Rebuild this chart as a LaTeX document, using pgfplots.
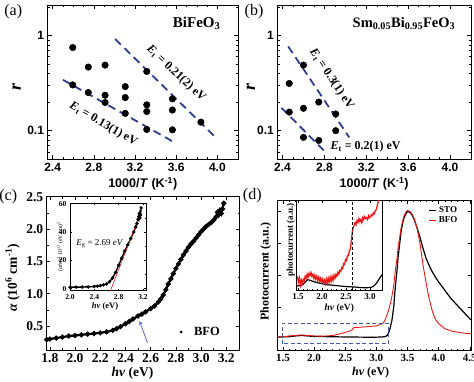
\documentclass[border=0pt]{standalone}
\usepackage{fontspec}
\setmainfont{Liberation Serif}
\setsansfont{Liberation Sans}
\usepackage{pgfplots}
\pgfplotsset{compat=1.18}
\definecolor{navyd}{RGB}{45,62,140}
\definecolor{bfored}{RGB}{235,25,25}
\definecolor{arrowblue}{RGB}{80,105,185}
\definecolor{rectblue}{RGB}{70,90,170}
\pgfplotsset{
  myBase/.style={scale only axis, anchor=south west, tick align=inside,
    major tick length=3.5pt, minor tick length=2pt,
    every tick/.style={black, line width=0.5pt}, axis line style={line width=0.7pt},
    tick label style={/pgf/number format/fixed, /pgf/number format/fixed zerofill,
      /pgf/number format/precision=1, /pgf/number format/assume math mode=true}},
  myAB/.style={
    xmin=2.35, xmax=4.2, ymin=0.05, ymax=2.1,
    xtick={2.4,2.8,3.2,3.6,4.0}, minor x tick num=3,
    ytick={0.1,1}, yticklabels={0.1,1},
    minor ytick={0.06,0.07,0.08,0.09,0.2,0.3,0.4,0.5,0.6,0.7,0.8,0.9,2},
    major tick length=4pt, minor tick length=2.2pt,
    tick label style={font=\sffamily\bfseries\fontsize{12}{12}\selectfont},
    xlabel={1000/\textit{T} (K\textsuperscript{-1})},
    xlabel style={font=\sffamily\bfseries\fontsize{12.5}{12}\selectfont, at={(axis description cs:0.5,-0.16)}, anchor=center},
    ylabel={\textit{r}},
    ylabel style={font=\bfseries\fontsize{18}{18}\selectfont, anchor=center},
  },
}
\begin{document}
\begin{tikzpicture}
\path[use as bounding box] (0pt,0pt) rectangle (474pt,381pt);

% ---------------- (a)
\begin{semilogyaxis}[myBase, myAB, at={(47.5pt,221.7pt)}, width=190.5pt, height=154.3pt,
  ylabel style={at={(axis description cs:-0.162,0.47)}}]
\addplot[only marks, mark=*, mark size=3.3pt, black] coordinates {
(2.595,0.75)(2.595,0.303)(2.746,0.467)(2.746,0.252)(2.909,0.49)(2.909,0.236)(2.909,0.198)
(3.105,0.291)(3.105,0.223)(3.105,0.152)(3.314,0.42)(3.314,0.187)(3.314,0.159)(3.314,0.103)
(3.563,0.216)(3.563,0.165)(3.563,0.102)(3.84,0.123)};
\addplot[navyd, line width=1.8pt, dash pattern=on 8pt off 5pt] coordinates {(3.007,0.92)(3.968,0.088)};
\addplot[navyd, line width=1.8pt, dash pattern=on 8pt off 5pt] coordinates {(2.50,0.343)(3.57,0.0766)};
\node[rotate=-43, font=\bfseries\fontsize{12}{12}\selectfont] at (rel axis cs:0.675,0.555) {\textit{E}\textsubscript{t} = 0.21(2) eV};
\node[rotate=-30, font=\bfseries\fontsize{12}{12}\selectfont] at (rel axis cs:0.293,0.228) {\textit{E}\textsubscript{t} = 0.13(1) eV};
\node[font=\bfseries\fontsize{15}{15}\selectfont] at (rel axis cs:0.783,0.881) {BiFeO\textsubscript{3}};
\end{semilogyaxis}

% ---------------- (b)
\begin{semilogyaxis}[myBase, myAB, at={(277.3pt,221.7pt)}, width=193.7pt, height=154.3pt,
  ylabel style={at={(axis description cs:-0.137,0.47)}}]
\addplot[only marks, mark=*, mark size=3.3pt, black] coordinates {
(2.464,0.314)(2.464,0.157)(2.60,0.49)(2.60,0.172)(2.60,0.085)(2.746,0.2)(2.746,0.079)(2.908,0.15)(2.908,0.1)};
\addplot[navyd, line width=1.8pt, dash pattern=on 8pt off 5pt] coordinates {(2.454,0.77)(3.037,0.085)};
\addplot[navyd, line width=1.8pt, dash pattern=on 8pt off 5pt] coordinates {(2.39,0.174)(2.80,0.061)};
\node[rotate=-56, font=\bfseries\fontsize{12}{12}\selectfont] at (rel axis cs:0.28,0.52) {\textit{E}\textsubscript{t} = 0.3(1) eV};
\node[font=\bfseries\fontsize{12}{12}\selectfont] at (rel axis cs:0.456,0.082) {\textit{E}\textsubscript{t} = 0.2(1) eV};
\node[font=\bfseries\fontsize{14.5}{15}\selectfont] at (rel axis cs:0.654,0.881) {Sm\textsubscript{0.05}Bi\textsubscript{0.95}FeO\textsubscript{3}};
\end{semilogyaxis}

% ---------------- (c)
\begin{axis}[myBase, at={(46.7pt,31pt)}, width=192.8pt, height=153.3pt,
  xmin=1.775, xmax=3.305, ymin=0.13, ymax=2.5,
  xtick={1.8,2.0,...,3.21}, minor x tick num=1,
  ytick={0.5,1.0,1.5,2.0,2.5}, minor y tick num=1,
  tick label style={font=\bfseries\fontsize{13.5}{13.5}\selectfont},
  xlabel={\textit{hv} (eV)},
  xlabel style={font=\bfseries\fontsize{13.5}{13.5}\selectfont, at={(axis description cs:0.445,-0.149)}, anchor=center},
  ylabel={\textit{α} (10\textsuperscript{6} cm\textsuperscript{-1})},
  ylabel style={font=\bfseries\fontsize{13.5}{13.5}\selectfont, at={(axis description cs:-0.177,0.47)}, anchor=center},
  legend style={draw=none, fill=none, at={(0.665,0.118)}, anchor=west, font=\bfseries\fontsize{12.5}{12.5}\selectfont},
  legend image code/.code={\node[draw=none, fill=none, inner sep=0pt, minimum width=14pt, minimum height=3pt] at (5pt,0pt) {};
    \node[circle, draw=none, fill=black, inner sep=0pt, minimum size=3pt] at (1pt,0pt) {};}]
\addplot[black, line width=2.2pt, mark=*, mark size=1.3pt] coordinates {
(1.775,0.29)(1.80,0.30)(1.85,0.315)(1.90,0.33)(1.95,0.345)(2.00,0.355)(2.05,0.365)(2.10,0.375)
(2.15,0.385)(2.20,0.395)(2.25,0.41)(2.30,0.435)(2.33,0.46)(2.36,0.49)(2.40,0.535)(2.43,0.57)
(2.46,0.61)(2.50,0.655)(2.53,0.685)(2.56,0.72)(2.60,0.77)(2.63,0.81)(2.66,0.87)(2.68,0.92)
(2.70,0.98)(2.72,1.06)(2.74,1.15)(2.76,1.23)(2.78,1.31)(2.80,1.39)(2.82,1.46)(2.84,1.53)
(2.86,1.60)(2.88,1.66)(2.90,1.72)(2.92,1.77)(2.94,1.81)(2.96,1.86)(2.98,1.91)(3.00,1.96)
(3.02,2.00)(3.04,2.04)(3.06,2.07)(3.08,2.10)(3.10,2.14)(3.12,2.19)(3.13,2.26)(3.14,2.22)
(3.15,2.29)(3.16,2.24)(3.17,2.31)(3.18,2.40)};
\addlegendentry{BFO}
\draw[arrowblue, line width=0.8pt, -stealth] (axis cs:2.575,0.239) -- (axis cs:2.512,0.58);
\end{axis}

% inset (c)
\begin{axis}[myBase, at={(70pt,90.3pt)}, width=76pt, height=87.7pt,
  axis background/.style={fill=white},
  xmin=2.0, xmax=3.25, ymin=-1.5, ymax=60.5,
  xtick={2.0,2.4,2.8,3.2}, minor x tick num=1,
  ytick={0,20,40,60}, minor y tick num=1,
  major tick length=2pt, minor tick length=1.2pt,
  xticklabel style={font=\bfseries\fontsize{7.5}{7.5}\selectfont, /pgf/number format/precision=1},
  yticklabel style={font=\bfseries\fontsize{7.5}{7.5}\selectfont, /pgf/number format/precision=0},
  xlabel={\textit{hv} (eV)},
  xlabel style={font=\bfseries\fontsize{8.5}{8.5}\selectfont, at={(axis description cs:0.46,-0.18)}, anchor=center},
  ylabel={(\textit{αhν})\textsuperscript{2} 10\textsuperscript{12} (eV/cm)\textsuperscript{2}},
  ylabel style={font=\fontsize{5.8}{5.8}\selectfont, at={(axis description cs:-0.13,0.5)}, anchor=center}]
\addplot[black, line width=1.4pt, mark=*, mark size=0.9pt] coordinates {
(2.0,1.0)(2.1,1.0)(2.2,1.1)(2.3,1.2)(2.4,1.5)(2.45,1.8)(2.5,2.1)(2.55,2.6)(2.6,3.3)(2.65,4.8)
(2.7,7.5)(2.75,11.5)(2.8,16.5)(2.85,21.5)(2.9,26.5)(2.95,31)(3.0,35.5)(3.05,40)(3.08,43.5)
(3.1,46)(3.12,49)(3.13,51)(3.14,53)(3.15,50)(3.16,52)(3.17,57)};
\addplot[bfored, line width=0.6pt] coordinates {(2.66,-2)(3.16,53)};
\node[font=\fontsize{9}{9}\selectfont] at (axis cs:2.49,32) {\textit{E}\textsubscript{g} = 2.69 \textit{eV}};
\end{axis}

% ---------------- (d)
\begin{axis}[myBase, at={(277.3pt,30.5pt)}, width=193.7pt, height=150.5pt,
  xmin=1.41, xmax=4.52, ymin=1, ymax=151,
  xtick={1.5,2.0,...,4.51}, minor x tick num=4,
  ytick={44,76,108,140}, yticklabels={},
  tick label style={font=\bfseries\fontsize{11}{11}\selectfont},
  xlabel={\textit{hν} (eV)},
  xlabel style={font=\bfseries\fontsize{12}{12}\selectfont, at={(axis description cs:0.482,-0.147)}, anchor=center},
  ylabel={Photocurrent (a.u.)},
  ylabel style={font=\bfseries\fontsize{12}{12}\selectfont, at={(axis description cs:-0.06,0.524)}, anchor=center},
  legend style={draw=none, fill=none, at={(0.765,0.985)}, anchor=north west, font=\bfseries\fontsize{9}{9}\selectfont, row sep=-1pt},
  legend image code/.code={\draw[#1] (0pt,0pt) -- (7pt,0pt);}]
\addplot[black, line width=1.2pt] coordinates {
(1.41,14.3)(1.6,14.8)(1.7,15.5)(1.8,16)(1.9,15.5)(2.0,15)(2.2,14.8)(2.5,14.5)(2.8,14.3)(3.0,14.3)
(3.1,14.5)(3.15,15)(3.18,16.5)(3.2,19)(3.22,23)(3.25,31)(3.28,45)(3.3,61)(3.33,80)(3.35,94)
(3.38,110)(3.4,121)(3.43,130)(3.45,134)(3.48,138)(3.5,139.3)(3.53,139)(3.55,138)(3.58,135.5)
(3.6,132.7)(3.65,124)(3.7,114)(3.75,102.7)(3.8,92.7)(3.85,85.5)(3.9,79.3)(3.95,74)(4.0,69.3)
(4.1,61)(4.2,52.7)(4.3,46)(4.4,39.3)(4.5,32.7)(4.52,31.5)};
\addlegendentry{STO}
\addplot[bfored, line width=0.9pt] coordinates {
(1.41,14.3)(1.55,15)(1.6,15.5)(1.7,16)(1.8,16.5)(1.9,16)(2.0,15.5)(2.1,15.3)(2.2,15.5)(2.3,16)
(2.4,17.3)(2.5,19)(2.58,20.5)(2.61,21.5)(2.63,23.5)(2.66,24)(2.7,24)(2.8,24.5)(2.9,25)(3.0,25.5)
(3.05,26.5)(3.1,28)(3.13,30)(3.15,33)(3.18,38)(3.2,42)(3.23,49)(3.25,55)(3.28,66)(3.3,78)
(3.33,92)(3.35,104)(3.38,116)(3.4,124)(3.43,132)(3.45,136)(3.48,139.5)(3.5,140.5)(3.53,140)
(3.55,139)(3.58,136.5)(3.6,133.7)(3.63,128)(3.65,124)(3.7,108)(3.75,86)(3.8,68)(3.85,52)
(3.9,40)(3.95,32)(4.0,27.7)(4.1,22.7)(4.2,20.5)(4.3,19.3)(4.4,18.3)(4.52,17.7)};
\addlegendentry{BFO}
\draw[rectblue, line width=0.9pt, dash pattern=on 4pt off 2.5pt] (axis cs:1.49,7.7) rectangle (axis cs:3.19,28.3);
\end{axis}

% inset (d)
\begin{axis}[myBase, at={(296.3pt,91pt)}, width=86pt, height=90pt,
  axis background/.style={fill=white},
  xmin=1.465, xmax=3.256, ymin=-2, ymax=90,
  xtick={1.5,2.0,2.5,3.0}, minor x tick num=4, ytick=\empty,
  major tick length=2.5pt, minor tick length=1.3pt,
  xticklabel style={font=\bfseries\fontsize{9}{9}\selectfont},
  xlabel={\textit{hν} (eV)},
  xlabel style={font=\bfseries\fontsize{9.5}{9.5}\selectfont, at={(axis description cs:0.5,-0.2)}, anchor=center},
  ylabel={photocurrent (a.u.)},
  ylabel style={font=\bfseries\fontsize{9}{9}\selectfont, at={(axis description cs:-0.065,0.556)}, anchor=center}]
\addplot[black, line width=1.2pt] coordinates {
(1.465,2)(1.55,2.5)(1.6,3.5)(1.65,6)(1.7,8.5)(1.75,8)(1.8,7)(1.9,5.5)(2.0,4.5)(2.1,3.5)(2.2,3)
(2.3,2.5)(2.4,2)(2.5,1.5)(2.6,1.2)(2.7,1)(2.8,0.5)(2.9,0.3)(3.0,0.5)(3.05,1.2)(3.1,3)(3.15,6)
(3.2,10)(3.256,14)};
\addplot[bfored, line width=1.3pt] coordinates {
(1.49,12)(1.51,6)(1.53,10)(1.55,3)(1.57,8)(1.59,5)(1.61,9)(1.63,7)(1.65,12)(1.67,10)(1.69,14)
(1.71,11)(1.73,15)(1.75,13)(1.77,16)(1.79,12)(1.81,14)(1.83,10)(1.85,13)(1.87,9)(1.89,12)
(1.91,8)(1.93,11)(1.95,7)(1.97,10)(1.99,6)(2.01,9)(2.03,5)(2.05,8)(2.07,4)(2.09,9)(2.11,5)
(2.13,10)(2.15,6)(2.17,11)(2.19,7)(2.21,12)(2.23,8)(2.25,13)(2.27,10)(2.29,14)(2.31,12)
(2.33,16)(2.35,14)(2.37,18)(2.39,17)(2.41,21)(2.43,20)(2.45,25)(2.47,24)(2.49,29)(2.51,28)
(2.53,33)(2.55,33)(2.57,38)(2.59,40)(2.61,48)(2.63,57)(2.65,62)(2.67,64)(2.69,67)(2.71,65)
(2.73,69)(2.75,67)(2.77,71)(2.79,68)(2.81,70)(2.83,67)(2.85,72)(2.87,70)(2.89,73)(2.91,71)
(2.93,72)(2.95,70)(2.97,74)(2.99,72)(3.01,73)(3.03,75)(3.05,74)(3.07,77)(3.09,76)(3.11,79)
(3.13,80)(3.15,84)(3.17,88)(3.19,92)(3.21,96)};
\draw[black, line width=0.8pt, dash pattern=on 3pt off 2pt] (axis cs:2.64,-2) -- (axis cs:2.64,90);
\end{axis}

% panel labels
\node[font=\fontsize{16}{16}\selectfont] at (13.3pt,369.3pt) {(a)};
\node[font=\fontsize{16}{16}\selectfont] at (254pt,369.3pt) {(b)};
\node[font=\fontsize{16}{16}\selectfont] at (8.3pt,184.3pt) {(c)};
\node[font=\fontsize{16}{16}\selectfont] at (252.3pt,185pt) {(d)};
\end{tikzpicture}
\end{document}
